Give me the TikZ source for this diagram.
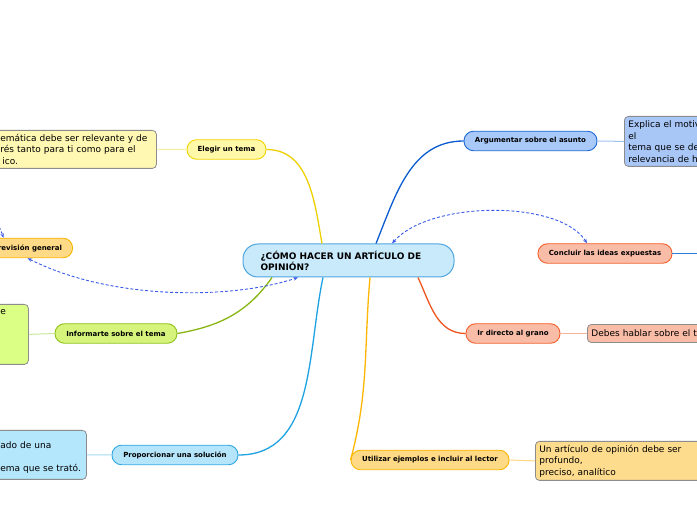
\documentclass[tikz,border=0pt]{standalone}
\usepackage{fontspec}
\setmainfont{DejaVu Sans}
\usetikzlibrary{arrows.meta,positioning}

\definecolor{centfill}{HTML}{C8EAFB}
\definecolor{centdraw}{HTML}{4FA6DE}
\definecolor{yelfill}{HTML}{FFF8A8}
\definecolor{yeldraw}{HTML}{F2D400}
\definecolor{yelline}{HTML}{EDD000}
\definecolor{yelleaf}{HTML}{FFF8B3}
\definecolor{yellight}{HTML}{F9EFA0}
\definecolor{orafill}{HTML}{FFDA86}
\definecolor{oradraw}{HTML}{F7B600}
\definecolor{oraline}{HTML}{FFB600}
\definecolor{oraleaf}{HTML}{FEDC8E}
\definecolor{oralight}{HTML}{FFD580}
\definecolor{grnfill}{HTML}{D6F47C}
\definecolor{grndraw}{HTML}{8EC21C}
\definecolor{grnline}{HTML}{88B611}
\definecolor{grnleaf}{HTML}{DBFE84}
\definecolor{grnlight}{HTML}{C9E89A}
\definecolor{skyfill}{HTML}{B5E5FA}
\definecolor{skydraw}{HTML}{2FA8E2}
\definecolor{skyline}{HTML}{1DA2E2}
\definecolor{skyleaf}{HTML}{B4E6FC}
\definecolor{skylight}{HTML}{A6DBF3}
\definecolor{bluefill}{HTML}{A9C9F9}
\definecolor{bluedraw}{HTML}{1D6AD6}
\definecolor{blueline}{HTML}{0B5CD0}
\definecolor{blueleaf}{HTML}{A8C6F6}
\definecolor{bluelight}{HTML}{A0C2EE}
\definecolor{redfill}{HTML}{F9BCA7}
\definecolor{reddraw}{HTML}{F2602E}
\definecolor{redline}{HTML}{F0561F}
\definecolor{redlight}{HTML}{F5B4A0}
\definecolor{leafdraw}{HTML}{8C8C8C}
\definecolor{relcol}{HTML}{3A5BEA}
\definecolor{sidecol}{HTML}{2D7CD8}

\begin{document}
\begin{tikzpicture}[
  x=1pt, y=1pt,
  >={Stealth[length=4.5pt,width=3.5pt]},
  centre/.style={draw=centdraw, fill=centfill, line width=1pt, rounded corners=15pt,
                 minimum height=33pt, text width=176pt, inner xsep=17.5pt, align=left,
                 font=\fontsize{9}{11}\selectfont\bfseries},
  branch/.style={draw, line width=0.9pt, rounded corners=9.5pt, minimum height=19.5pt,
                 inner sep=0pt, font=\fontsize{7}{8}\selectfont\bfseries},
  leaf/.style={draw=leafdraw, line width=0.8pt, rounded corners=4pt, align=left,
               inner xsep=4pt, inner ysep=2pt, font=\fontsize{9}{11.5}\selectfont},
  link/.style={line width=1.3pt},
  twig/.style={line width=1pt},
  rel/.style={relcol, line width=0.9pt, dash pattern=on 3pt off 2pt},
]
  \useasboundingbox (0,0) rectangle (697,520);
  \fill[white] (0,0) rectangle (697,520);
  \clip (0,0) rectangle (697,520);

  \node[centre] (c) at (348.5,259.5) {¿CÓMO HACER UN ARTÍCULO DE\\OPINIÓN?};

  \node[branch, draw=yeldraw, fill=yelfill, minimum width=79pt]  (eleg) at (226.5,370.5) {Elegir un tema};
  \node[branch, draw=oradraw, fill=orafill, minimum width=90pt, anchor=east] (prev) at (73,272) {previsión general};
  \node[branch, draw=grndraw, fill=grnfill, minimum width=122pt] (info) at (116,186.5) {Informarte sobre el tema};
  \node[branch, draw=skydraw, fill=skyfill, minimum width=126pt] (prop) at (175,65) {Proporcionar una solución};
  \node[branch, draw=bluedraw, fill=bluefill, minimum width=133pt] (arg) at (530.5,379) {Argumentar sobre el asunto};
  \node[branch, draw=reddraw, fill=redfill, minimum width=134pt] (conc) at (605,266.5) {Concluir las ideas expuestas};
  \node[branch, draw=reddraw, fill=redfill, minimum width=94pt]  (ir) at (513,186.5) {Ir directo al grano};
  \node[branch, draw=oradraw, fill=orafill, minimum width=158pt] (util) at (430,60) {Utilizar ejemplos e incluir al lector};

  \node[leaf, fill=yelleaf, anchor=north west, text width=152pt, minimum height=38pt] (eleg-t) at (-4,390)
    {emática debe ser relevante y de\\rés tanto para ti como para el\\\hspace*{2pt}ico.};
  \node[leaf, fill=grnleaf, anchor=north west, text width=24pt, inner ysep=3pt,
        text height=7pt, text depth=47pt] (info-t) at (-4,216) {e};
  \node[leaf, fill=skyleaf, anchor=north west, text width=82pt, minimum height=49pt] (prop-t) at (-4,90)
    {\mbox{}\\ado de una\\\mbox{}\\ema que se trató.};
  \node[leaf, fill=blueleaf, anchor=north west, text width=90pt, minimum height=50pt] (arg-t) at (624,404)
    {Explica el motiv\\el\\tema que se de\\relevancia de h};
  \node[leaf, fill=redfill, anchor=west, text width=120pt, minimum height=18pt] (ir-t) at (587,186.5)
    {Debes hablar sobre el t};
  \node[leaf, fill=oraleaf, anchor=north west, text width=160pt, minimum height=39pt] (util-t) at (535,79)
    {Un artículo de opinión debe ser\\profundo,\\preciso, analítico};

  \coordinate (side) at (710,266.5);
  \coordinate (offl) at (-8,300);

  \draw[link, yelline]  ([xshift=-26.5pt]c.north) to[out=100, in=0] (eleg.east);
  \draw[link, grnline]  ([xshift=-76.5pt]c.south) to[out=235, in=10] (info.east);
  \draw[link, skyline]  ([xshift=-25.5pt]c.south) to[out=258, in=0] (prop.east);
  \draw[link, blueline] ([xshift=27.5pt]c.north) to[out=68, in=180] (arg.west);
  \draw[link, redline]  ([xshift=69.5pt]c.south) to[out=295, in=180] (ir.west);
  \draw[link, oraline]  ([xshift=21.5pt]c.south) to[out=265, in=75] (util.west);
  \draw[link, sidecol]  (conc.east) -- (side);

  \draw[twig, yellight]  (eleg.west) -- (eleg-t.east);
  \draw[twig, grnlight]  (info.west) -- (info-t.east);
  \draw[twig, skylight]  (prop.west) -- (prop-t.east);
  \draw[twig, bluelight] (arg.east) -- (arg-t.west);
  \draw[twig, redlight]  (ir.east) -- (ir-t.west);
  \draw[twig, oralight]  (util.east) -- (util-t.west);

  \draw[rel, <->] (prev.south) .. controls (110,220) and (230,220) .. ([xshift=-50.5pt]c.south);
  \draw[rel, <->] ([xshift=43.5pt]c.north) .. controls (430,320) and (560,320) .. ([xshift=-18pt]conc.north);
  \draw[rel, ->] (offl) to[out=-30, in=110] ([xshift=-24pt]prev.north);
\end{tikzpicture}
\end{document}
